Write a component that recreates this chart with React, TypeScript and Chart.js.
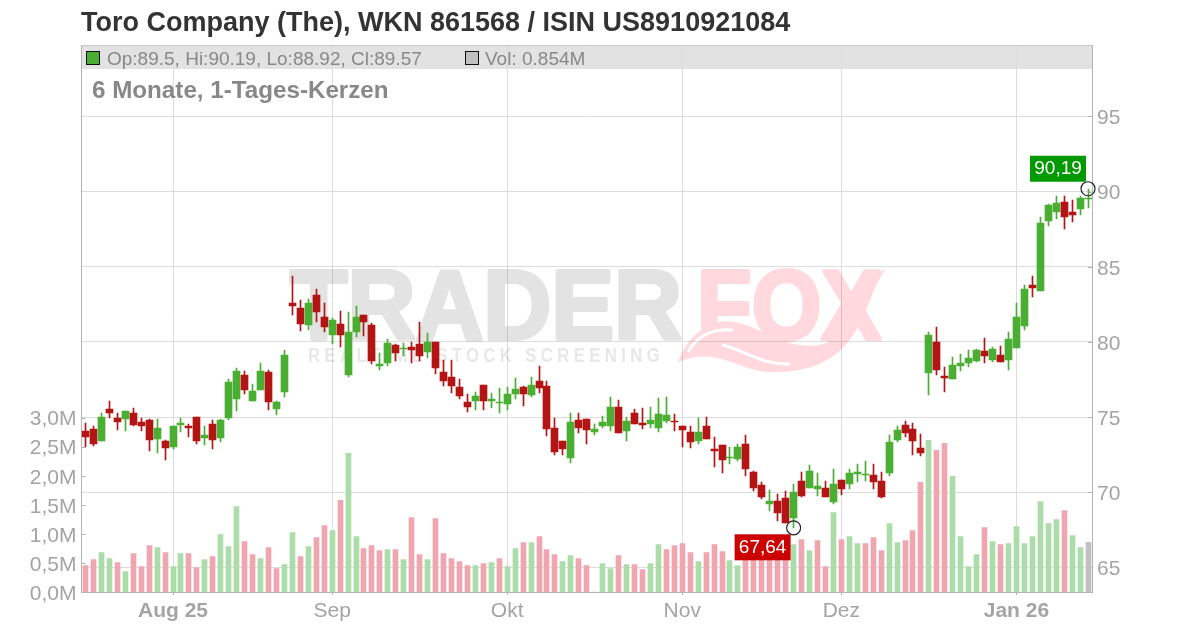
import React, { useEffect, useRef } from "react";
import { Chart, registerables } from "chart.js";

Chart.register(...registerables);

const tickIndexLabels: Record<number, string> = { 11: "Aug 25", 31: "Sep", 53: "Okt", 75: "Nov", 95: "Dez", 117: "Jan 26" };
const boldTicks = [11, 117];
const priceTicks = [65, 70, 75, 80, 85, 90, 95];
const volumeTicks = [0, 0.5, 1, 1.5, 2, 2.5, 3];

const opens = [
  74.09, 74.22, 73.42, 75.56, 74.96, 74.89, 75.29, 74.69, 74.82, 73.56,
  73.42, 73.02, 74.49, 74.42, 75.02, 73.62, 74.56, 73.62, 74.96, 76.22,
  77.82, 76.09, 76.82, 78.02, 75.56, 76.69, 82.56, 82.29, 81.16, 83.09,
  81.69, 80.49, 81.22, 77.82, 80.69, 81.76, 81.16, 78.42, 78.62, 79.82,
  79.56, 79.69, 79.89, 79.33, 80.0, 78.02, 77.69, 77.02, 76.02, 76.09,
  77.16, 76.09, 75.96, 75.89, 76.56, 77.02, 76.49, 77.42, 77.09, 74.29,
  73.42, 72.29, 74.82, 74.89, 74.02, 74.42, 74.42, 75.69, 74.09, 75.29,
  74.62, 74.56, 74.29, 74.76, 74.76, 74.42, 74.02, 73.42, 74.42, 72.89,
  73.16, 72.29, 72.22, 73.22, 71.36, 70.49, 69.22, 69.42, 69.62, 68.29,
  70.76, 70.29, 70.22, 70.29, 69.36, 70.82, 70.56, 71.22, 71.16, 71.16,
  70.76, 71.29, 73.49, 74.49, 74.22, 72.96, 77.96, 80.02, 77.76, 77.56,
  78.42, 78.62, 78.76, 79.42, 78.82, 79.16, 78.82, 79.62, 81.09, 83.76,
  83.42, 88.02, 88.62, 89.29, 88.62, 88.82, 89.5,
];
const highs = [
  74.62, 74.42, 75.27, 76.09, 75.27, 75.42, 75.62, 74.96, 74.89, 74.89,
  73.49, 74.42, 74.96, 74.56, 75.02, 74.42, 74.82, 74.89, 77.56, 78.29,
  78.09, 77.22, 78.62, 78.16, 76.09, 79.49, 84.36, 82.76, 82.89, 83.49,
  82.56, 81.56, 82.09, 82.02, 82.42, 81.82, 81.29, 79.29, 80.22, 79.89,
  79.96, 80.02, 81.33, 80.6, 80.0, 78.8, 78.8, 77.56, 76.56, 76.69,
  77.16, 76.62, 76.96, 77.02, 77.62, 77.09, 77.69, 78.42, 77.42, 74.96,
  73.42, 75.29, 75.29, 74.89, 74.56, 75.09, 76.36, 76.16, 75.02, 75.56,
  75.62, 75.69, 76.29, 76.36, 75.22, 74.42, 74.42, 74.96, 75.02, 73.69,
  73.16, 73.02, 73.22, 73.82, 71.42, 70.69, 70.16, 69.89, 70.09, 70.56,
  71.36, 71.82, 71.29, 70.76, 71.56, 70.82, 71.56, 71.89, 72.09, 71.89,
  71.36, 73.82, 74.42, 74.76, 74.62, 73.89, 80.69, 81.02, 78.36, 79.02,
  79.22, 79.49, 79.56, 80.29, 79.69, 79.76, 80.69, 82.62, 83.76, 84.36,
  88.29, 89.16, 89.69, 89.69, 89.42, 89.69, 90.19,
];
const lows = [
  73.02, 73.11, 73.42, 74.96, 74.16, 74.09, 74.42, 74.09, 72.76, 72.62,
  72.16, 72.89, 74.02, 73.69, 73.22, 73.16, 72.89, 73.36, 74.82, 75.42,
  76.56, 76.09, 76.82, 75.49, 75.16, 76.36, 81.82, 80.76, 80.82, 81.36,
  80.69, 79.89, 79.69, 77.69, 80.36, 80.42, 78.56, 78.16, 78.42, 78.76,
  79.09, 78.62, 78.73, 78.93, 77.84, 77.09, 76.62, 76.22, 75.36, 75.49,
  75.49, 75.62, 75.29, 75.49, 76.22, 75.76, 76.36, 76.62, 73.76, 72.49,
  72.49, 71.96, 73.96, 73.22, 73.82, 74.29, 74.09, 73.96, 73.42, 74.56,
  74.22, 74.29, 74.02, 74.62, 74.09, 73.02, 72.96, 73.22, 73.56, 71.69,
  71.29, 71.89, 72.09, 71.09, 70.09, 69.56, 68.76, 68.09, 67.96, 67.64,
  69.69, 70.29, 69.76, 69.69, 69.22, 69.82, 70.22, 70.69, 70.76, 70.22,
  69.62, 71.09, 73.36, 73.69, 72.49, 72.42, 76.49, 77.82, 76.69, 77.56,
  78.09, 78.36, 78.69, 78.62, 78.69, 78.69, 78.16, 79.62, 80.82, 82.96,
  83.42, 87.69, 88.16, 87.49, 87.96, 88.42, 88.92,
];
const closes = [
  73.69, 73.22, 75.02, 75.29, 74.69, 75.42, 74.49, 74.42, 73.49, 74.29,
  72.96, 74.42, 74.62, 74.29, 73.42, 73.82, 73.49, 74.82, 77.36, 78.09,
  76.82, 76.76, 78.09, 76.02, 76.02, 79.16, 82.42, 81.22, 82.62, 82.02,
  81.02, 81.49, 80.49, 80.69, 81.69, 81.36, 78.76, 78.56, 79.96, 79.29,
  79.62, 79.49, 79.09, 80.0, 78.24, 77.42, 77.09, 76.42, 75.69, 76.42,
  76.09, 76.22, 76.02, 76.56, 76.89, 76.56, 77.16, 76.96, 74.22, 72.69,
  72.89, 74.69, 74.29, 74.16, 74.22, 74.69, 75.69, 73.96, 74.76, 74.56,
  74.49, 74.82, 75.22, 75.16, 74.69, 74.16, 73.36, 74.02, 73.56, 72.76,
  72.16, 72.36, 73.02, 71.56, 70.29, 69.69, 69.42, 68.62, 67.96, 70.02,
  69.76, 71.42, 70.42, 69.69, 70.56, 70.22, 71.29, 71.36, 71.22, 70.69,
  69.69, 73.36, 74.16, 73.96, 73.42, 72.62, 80.49, 78.16, 77.62, 78.49,
  78.62, 78.96, 79.49, 79.09, 79.56, 78.69, 80.22, 81.69, 83.49, 83.62,
  87.89, 89.09, 89.22, 88.29, 88.42, 89.56, 89.57,
];
const volumes = [
  0.454, 0.557, 0.678, 0.575, 0.506, 0.351, 0.661, 0.437, 0.799, 0.764,
  0.678, 0.437, 0.661, 0.661, 0.42, 0.557, 0.609, 0.989, 0.782, 1.471,
  0.868, 0.644, 0.575, 0.764, 0.402, 0.471, 1.023, 0.609, 0.782, 0.937,
  1.144, 1.057, 1.575, 2.385, 0.954, 0.747, 0.799, 0.713, 0.73, 0.73,
  0.557, 1.282, 0.644, 0.557, 1.264, 0.661, 0.575, 0.523, 0.454, 0.454,
  0.489, 0.506, 0.575, 0.437, 0.747, 0.851, 0.851, 0.954, 0.73, 0.644,
  0.523, 0.626, 0.575, 0.454, 0, 0.489, 0.402, 0.626, 0.471, 0.471,
  0.385, 0.489, 0.816, 0.73, 0.799, 0.833, 0.678, 0.523, 0.678, 0.816,
  0.695, 0.54, 0.454, 0.62, 0.72, 0.68, 0.6, 0.72, 0.75, 0.816,
  0.902, 0.713, 0.885, 0.437, 1.368, 0.902, 0.954, 0.833, 0.833, 0.937,
  0.713, 1.178, 0.851, 0.885, 1.057, 1.885, 2.609, 2.437, 2.557, 1.989,
  0.954, 0.437, 0.644, 1.109, 0.868, 0.816, 0.833, 1.126, 0.833, 0.954,
  1.557, 1.178, 1.247, 1.402, 0.971, 0.764, 0.854,
];
const volumeDirections = (
  "rrggrgrrrg" + "rggrrgrggg" + "rrgrrggrgr" + "rgrggrrrgr" + "grrgrrrrrg" + "rgrggrgrrr" +
  "ggrrgggrgr" + "rggrrrrgrr" + "rggrrrrrrg" + "rgrrgrggrr" + "rggrrrgrrg" + "gggrgrgggg" + "gggrggn"
).split("");

const UP = "#4aae32";
const DOWN = "#b31414";
const VOL: Record<string, string> = { r: "#f0a6b0", g: "#acdcaa", n: "#c0c0c0" };
const TICK = "#a4a4a4";
const AXIS = "#b4b4b4";
const GRID = "#dcdcdc";
const SANS = '"Liberation Sans", Arial, sans-serif';

function paintWatermark(target: CanvasRenderingContext2D) {
  const off = document.createElement("canvas");
  off.width = 1200;
  off.height = 628;
  const ctx = off.getContext("2d") as CanvasRenderingContext2D;
  ctx.lineJoin = "round";
  ctx.textBaseline = "alphabetic";
  ctx.textAlign = "left";
  ctx.font = `bold 98px ${SANS}`;
  ctx.lineWidth = 4;
  ctx.fillStyle = ctx.strokeStyle = "#e3e3e3";
  ctx.fillText("TRADER", 290, 339, 392);
  ctx.strokeText("TRADER", 290, 339, 392);
  ctx.fillStyle = ctx.strokeStyle = "#ffd9dd";
  ctx.fillText("FOX", 697, 339, 184);
  ctx.strokeText("FOX", 697, 339, 184);
  ctx.beginPath();
  ctx.moveTo(678, 362);
  ctx.bezierCurveTo(690, 330, 715, 318, 735, 322);
  ctx.bezierCurveTo(765, 328, 785, 350, 820, 345);
  ctx.bezierCurveTo(850, 338, 855, 285, 886, 268);
  ctx.bezierCurveTo(862, 300, 865, 372, 775, 372);
  ctx.bezierCurveTo(735, 372, 720, 345, 678, 362);
  ctx.fill();
  ctx.strokeStyle = "#fff";
  ctx.lineWidth = 3;
  ctx.beginPath();
  ctx.moveTo(688, 352);
  ctx.bezierCurveTo(697, 335, 715, 328, 733, 330);
  ctx.moveTo(722, 345);
  ctx.bezierCurveTo(745, 350, 760, 365, 790, 364);
  ctx.stroke();
  ctx.font = `bold 21px ${SANS}`;
  (ctx as any).letterSpacing = "5.5px";
  ctx.fillStyle = "#e8e8e8";
  ctx.fillText("REALTIME STOCK SCREENING", 308, 362, 356);
  target.save();
  target.globalCompositeOperation = "multiply";
  target.drawImage(off, 0, 0);
  target.restore();
}

const decorations = {
  id: "decorations",
  beforeDraw(chart: any) {
    const { ctx, chartArea: a } = chart;
    ctx.save();
    ctx.fillStyle = "#e2e2e2";
    ctx.fillRect(a.left, a.top, a.right - a.left, 24);
    ctx.restore();
  },
  afterDatasetsUpdate(chart: any) {
    // snap bars to whole device pixels, like the crisp bars of the reference
    chart.data.datasets.forEach((ds: any, i: number) => {
      const w = ds.barThickness;
      for (const el of chart.getDatasetMeta(i).data as any[]) {
        el.x = Math.round(el.x - w / 2) + w / 2;
        if (i < 2) {
          el.y = Math.round(el.y);
          el.base = Math.round(el.base);
          el.height = el.base - el.y;
        }
      }
    });
  },
  beforeDatasetsDraw(chart: any) {
    const { ctx, chartArea: a, scales } = chart;
    paintWatermark(ctx);
    ctx.save();
    ctx.strokeStyle = AXIS;
    ctx.lineWidth = 1;
    ctx.beginPath();
    for (const t of priceTicks) {
      const y = Math.round(scales.y.getPixelForValue(t)) + 0.5;
      ctx.moveTo(a.right - 4, y);
      ctx.lineTo(a.right, y);
    }
    for (const t of volumeTicks) {
      const y = Math.round(scales.v.getPixelForValue(t)) + 0.5;
      ctx.moveTo(a.left, y);
      ctx.lineTo(a.left + 4, y);
    }
    ctx.stroke();
    ctx.strokeStyle = "#c8c8c8";
    ctx.beginPath();
    ctx.moveTo(a.left, a.top + 0.5);
    ctx.lineTo(a.right, a.top + 0.5);
    ctx.stroke();
    ctx.restore();
  },
  afterDatasetsDraw(chart: any) {
    const { ctx, scales } = chart;
    const hi = Math.max(...highs);
    const lo = Math.min(...lows);
    const iHi = highs.indexOf(hi);
    const iLo = lows.indexOf(lo);
    const xH = scales.x.getPixelForValue(iHi);
    const yH = scales.y.getPixelForValue(hi);
    const xL = scales.x.getPixelForValue(iLo);
    const yL = scales.y.getPixelForValue(lo);
    ctx.save();
    ctx.strokeStyle = "#222";
    ctx.lineWidth = 1.2;
    for (const [x, y] of [[xH, yH], [xL, yL]]) {
      ctx.beginPath();
      ctx.arc(x, y, 7, 0, Math.PI * 2);
      ctx.stroke();
    }
    const box = (txt: string, right: number, top: number, fill: string) => {
      ctx.fillStyle = fill;
      ctx.fillRect(right - 56, top, 56, 26);
      ctx.fillStyle = "#fff";
      ctx.font = `19px ${SANS}`;
      ctx.textAlign = "center";
      ctx.textBaseline = "middle";
      ctx.fillText(txt, right - 28, top + 13.5);
    };
    box(hi.toFixed(2).replace(".", ","), xH - 2, yH - 33, "#009900");
    box(lo.toFixed(2).replace(".", ","), xL - 3, yL + 6.5, "#cc0000");
    ctx.restore();
  },
};

export default function App() {
  const ref = useRef<HTMLCanvasElement>(null);
  useEffect(() => {
    const labels = opens.map((_, i) => tickIndexLabels[i] ?? "");
    const candleColors = opens.map((o, i) => (closes[i] >= o ? UP : DOWN));
    const chart = new Chart(ref.current as HTMLCanvasElement, {
      type: "bar",
      data: {
        labels,
        datasets: [
          {
            label: "Body",
            data: opens.map((o, i) => [o, closes[i]]),
            backgroundColor: candleColors,
            barThickness: 7,
            grouped: false,
            order: 1,
            yAxisID: "y",
          },
          {
            label: "Wick",
            data: lows.map((l, i) => [l, highs[i]]),
            backgroundColor: candleColors,
            barThickness: 1,
            grouped: false,
            order: 2,
            yAxisID: "y",
          },
          {
            label: "Volume",
            data: volumes,
            backgroundColor: volumeDirections.map((d) => VOL[d]),
            barThickness: 5,
            grouped: false,
            order: 3,
            yAxisID: "v",
          },
        ] as any,
      },
      options: {
        responsive: false,
        animation: false,
        events: [],
        layout: { padding: { top: 45, left: 0, right: 0, bottom: 0 } },
        plugins: { legend: { display: false }, tooltip: { enabled: false }, title: { display: false } },
        scales: {
          x: {
            type: "category",
            offset: true,
            grid: { offset: false, color: GRID, lineWidth: 1, drawTicks: true, tickLength: 3, tickColor: AXIS },
            border: { display: true, color: AXIS, width: 1 },
            ticks: {
              autoSkip: false,
              maxRotation: 0,
              padding: 4,
              color: TICK,
              font: (c: any) => ({ family: SANS, size: 21, weight: boldTicks.includes(c.tick?.value) ? "bold" : "normal" }),
              callback: (_: any, i: number) => tickIndexLabels[i] ?? null,
            },
            afterFit: (s: any) => { s.height = 36; },
          },
          y: {
            type: "linear",
            position: "right",
            min: 63.37,
            max: 99.75,
            afterBuildTicks: (s: any) => { s.ticks = priceTicks.map((value) => ({ value })); },
            grid: { color: GRID, lineWidth: 1, drawTicks: false },
            border: { display: true, color: AXIS, width: 1 },
            ticks: { color: TICK, padding: 5, labelOffset: 2, font: { family: SANS, size: 21 }, callback: (v: any) => `${v}` },
            afterFit: (s: any) => { s.width = 108; },
          },
          v: {
            type: "linear",
            position: "left",
            min: 0,
            max: 9.41,
            afterBuildTicks: (s: any) => { s.ticks = volumeTicks.map((value) => ({ value })); },
            grid: { display: false, drawTicks: false },
            border: { display: true, color: AXIS, width: 1 },
            ticks: {
              color: TICK,
              padding: 5,
              labelOffset: 2,
              font: { family: SANS, size: 21 },
              callback: (v: any) => `${Number(v).toFixed(1).replace(".", ",")}M`,
            },
            afterFit: (s: any) => { s.width = 81.5; },
          },
        },
      } as any,
      plugins: [decorations],
    });
    return () => chart.destroy();
  }, []);

  const text = (left: number, top: number, size: number, color: string, bold: boolean): React.CSSProperties => ({
    position: "absolute",
    left,
    top,
    fontFamily: SANS,
    fontSize: size,
    lineHeight: "1",
    color,
    fontWeight: bold ? "bold" : "normal",
    whiteSpace: "nowrap",
  });
  const swatch = (left: number, color: string): React.CSSProperties => ({
    position: "absolute",
    left,
    top: 51,
    width: 12,
    height: 12,
    background: color,
    border: "1px solid #111",
  });

  return (
    <div style={{ position: "absolute", left: 0, top: 0, width: 1200, height: 628, background: "#fff", overflow: "hidden" }}>
      <canvas ref={ref} width={1200} height={628} style={{ display: "block" }} />
      <div style={text(81, 8.5, 27, "#333", true)}>Toro Company (The), WKN 861568 / ISIN US8910921084</div>
      <div style={swatch(86, UP)} />
      <div style={text(107, 49, 19, "#888", false)}>Op:89.5, Hi:90.19, Lo:88.92, Cl:89.57</div>
      <div style={swatch(465, "#c0c0c0")} />
      <div style={text(485, 49, 19, "#888", false)}>Vol: 0.854M</div>
      <div style={text(92, 78, 24.2, "#888", true)}>6 Monate, 1-Tages-Kerzen</div>
    </div>
  );
}
